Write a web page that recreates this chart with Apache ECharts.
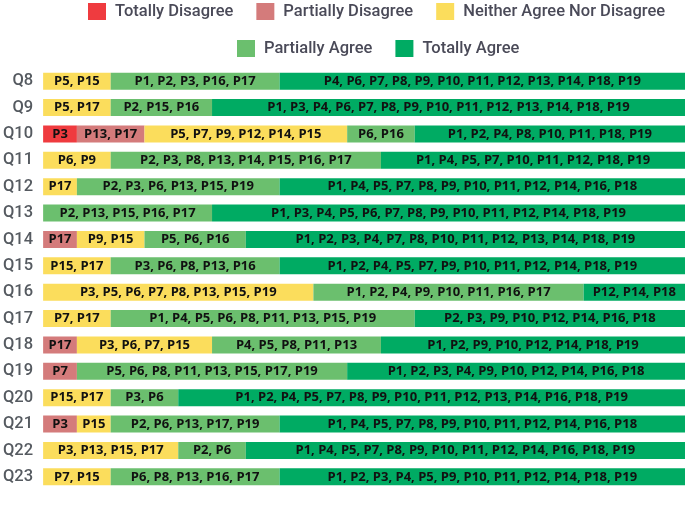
<!DOCTYPE html>
<html><head><meta charset="utf-8">
<script src="https://cdn.jsdelivr.net/npm/echarts@6/dist/echarts.min.js"></script>
<style>html,body{margin:0;padding:0;background:#fff}#c{width:685px;height:520px}</style>
</head><body><div id="c"></div>
<script>
var questions = ['Q8','Q9','Q10','Q11','Q12','Q13','Q14','Q15','Q16','Q17','Q18','Q19','Q20','Q21','Q22','Q23'];
var seriesNames = ['Totally Disagree','Partially Disagree','Neither Agree Nor Disagree','Partially Agree','Totally Agree'];
var colors = ['#EF3B3F','#D47B7B','#FBDD5C','#6BBF6E','#00AB63'];

var totallyDisagree   = [0,0,1,0,0,0,0,0,0,0,0,0,0,0,0,0];
var partiallyDisagree = [0,0,2,0,0,0,1,0,0,0,1,1,0,1,0,0];
var neither           = [2,2,6,2,1,0,2,2,8,2,4,0,2,1,4,2];
var partiallyAgree    = [5,3,2,8,6,5,3,5,8,9,5,8,2,5,2,5];
var totallyAgree      = [12,14,8,9,12,14,13,12,3,8,9,10,15,12,13,12];

var tdLabels = ['','','P3','','','','','','','','','','','','',''];
var pdLabels = ['','','P13, P17','','','','P17','','','','P17','P7','','P3','',''];
var nLabels = ['P5, P15','P5, P17','P5, P7, P9, P12, P14, P15','P6, P9','P17','','P9, P15','P15, P17',
  'P3, P5, P6, P7, P8, P13, P15, P19','P7, P17','P3, P6, P7, P15','','P15, P17','P15','P3, P13, P15, P17','P7, P15'];
var paLabels = ['P1, P2, P3, P16, P17','P2, P15, P16','P6, P16','P2, P3, P8, P13, P14, P15, P16, P17',
  'P2, P3, P6, P13, P15, P19','P2, P13, P15, P16, P17','P5, P6, P16','P3, P6, P8, P13, P16',
  'P1, P2, P4, P9, P10, P11, P16, P17','P1, P4, P5, P6, P8, P11, P13, P15, P19','P4, P5, P8, P11, P13',
  'P5, P6, P8, P11, P13, P15, P17, P19','P3, P6','P2, P6, P13, P17, P19','P2, P6','P6, P8, P13, P16, P17'];
var taLabels = ['P4, P6, P7, P8, P9, P10, P11, P12, P13, P14, P18, P19',
  'P1, P3, P4, P6, P7, P8, P9, P10, P11, P12, P13, P14, P18, P19',
  'P1, P2, P4, P8, P10, P11, P18, P19',
  'P1, P4, P5, P7, P10, P11, P12, P18, P19',
  'P1, P4, P5, P7, P8, P9, P10, P11, P12, P14, P16, P18',
  'P1, P3, P4, P5, P6, P7, P8, P9, P10, P11, P12, P14, P18, P19',
  'P1, P2, P3, P4, P7, P8, P10, P11, P12, P13, P14, P18, P19',
  'P1, P2, P4, P5, P7, P9, P10, P11, P12, P14, P18, P19',
  'P12, P14, P18',
  'P2, P3, P9, P10, P12, P14, P16, P18',
  'P1, P2, P9, P10, P12, P14, P18, P19',
  'P1, P2, P3, P4, P9, P10, P12, P14, P16, P18',
  'P1, P2, P4, P5, P7, P8, P9, P10, P11, P12, P13, P14, P16, P18, P19',
  'P1, P4, P5, P7, P8, P9, P10, P11, P12, P14, P16, P18',
  'P1, P4, P5, P7, P8, P9, P10, P11, P12, P14, P16, P18, P19',
  'P1, P2, P3, P4, P5, P9, P10, P11, P12, P14, P18, P19'];

var values = [totallyDisagree, partiallyDisagree, neither, partiallyAgree, totallyAgree];
var labels = [tdLabels, pdLabels, nLabels, paLabels, taLabels];

var chart = echarts.init(document.getElementById('c'), null, {renderer:'canvas'});
var series = seriesNames.map(function(name, i){
  return {
    name: name, type: 'bar', stack: 'all', barWidth: 17,
    itemStyle: {color: colors[i]},
    data: values[i],
    label: {
      show: true, position: 'inside', color: '#111',
      fontFamily: 'Open Sans', fontWeight: 'bold', fontSize: 13,
      formatter: function(p){ return p.value ? labels[i][p.dataIndex] : ''; }
    }
  };
});
var legendText = {color:'#4a4a58', fontFamily:'Roboto', fontWeight:500, fontSize:16.5, padding:[0,0,0,4]};
chart.setOption({
  animation: false,
  color: colors,
  legend: [
    {data: seriesNames.slice(0,3), left: 88, top: 3, width: 800, padding: 0, itemWidth: 18, itemHeight: 17, itemGap: 23,
     icon: 'rect', textStyle: legendText, selectedMode: false},
    {data: seriesNames.slice(3), left: 237, top: 40, width: 800, padding: 0, itemWidth: 18, itemHeight: 17, itemGap: 23,
     icon: 'rect', textStyle: legendText, selectedMode: false}
  ],
  grid: {left: 42, right: -5, top: 68, bottom: 30, containLabel: false},
  xAxis: {type: 'value', min: 0, max: 19, show: false},
  yAxis: {type: 'category', data: questions, inverse: true,
    axisLine: {show: false}, axisTick: {show: false},
    axisLabel: {color: '#555a60', fontFamily: 'Roboto', fontWeight: 500, fontSize: 16.5, margin: 10}},
  series: series
});
</script></body></html>
